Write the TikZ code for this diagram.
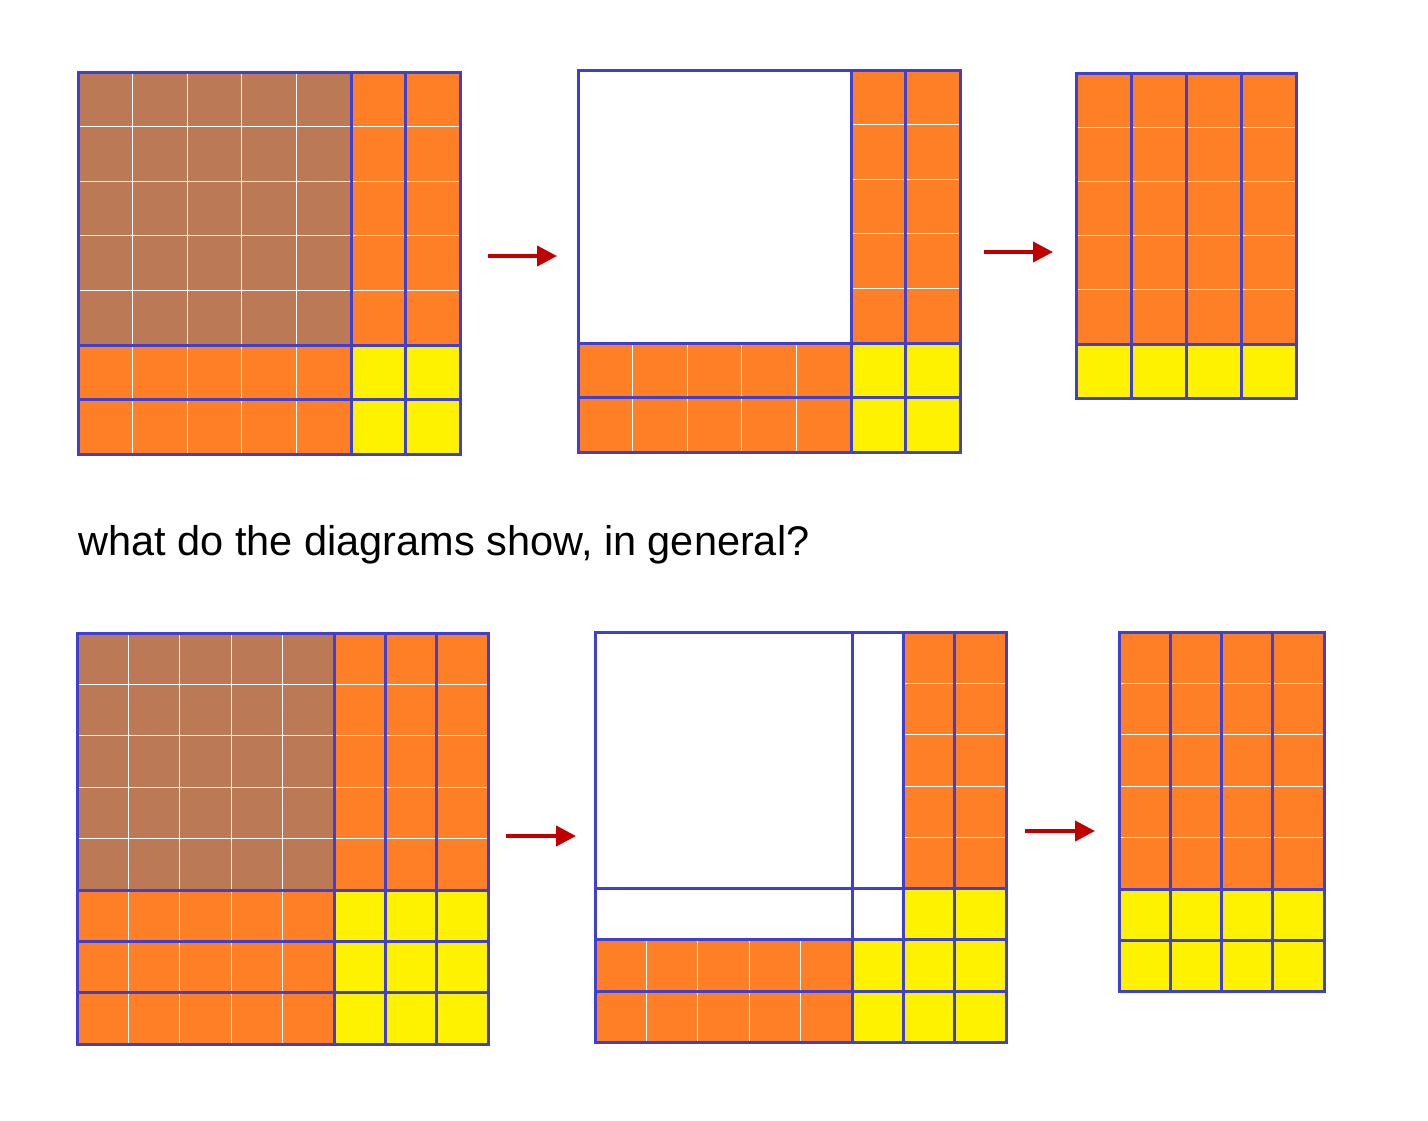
\documentclass[tikz,border=0pt]{standalone}
\usepackage{fontspec}
\setmainfont{Liberation Sans}
\usetikzlibrary{arrows.meta}

\definecolor{GridBlue}{RGB}{64,64,208}
\definecolor{CellOrange}{RGB}{255,127,39}
\definecolor{CellBrown}{RGB}{187,122,85}
\definecolor{CellYellow}{RGB}{255,242,0}
\definecolor{ArrowRed}{RGB}{192,0,0}

\tikzset{
  bluegrid/.style={draw=GridBlue, line width=3pt},
  whitegrid/.style={draw=white, line width=0.8pt},
  redarrow/.style={-{Triangle[length=20pt,width=20pt]}, draw=ArrowRed, line width=4pt},
}

\begin{document}
\begin{tikzpicture}[x=1pt,y=-1pt]
  \useasboundingbox (0,0) rectangle (1428,1120);

  % top row, full square
  \begin{scope}[shift={(78,72)}, x=54.6pt, y=-54.6pt]
    \fill[CellBrown] (0,0) rectangle (5,5);
    \fill[CellOrange] (5,0) rectangle (7,5);
    \fill[CellOrange] (0,5) rectangle (5,7);
    \fill[CellYellow] (5,5) rectangle (7,7);
    \foreach \i in {1,...,4}{
      \draw[whitegrid] (\i,0) -- (\i,7);
      \draw[whitegrid] (0,\i) -- (7,\i);
    }
    \foreach \i in {5,6}{
      \draw[bluegrid] (\i,0) -- (\i,7);
      \draw[bluegrid] (0,\i) -- (7,\i);
    }
    \draw[bluegrid] (0,0) rectangle (7,7);
  \end{scope}

  % top row, square taken away
  \begin{scope}[shift={(578,70)}, x=54.6pt, y=-54.6pt]
    \fill[CellOrange] (5,0) rectangle (7,5);
    \fill[CellOrange] (0,5) rectangle (5,7);
    \fill[CellYellow] (5,5) rectangle (7,7);
    \foreach \i in {1,...,4}{
      \draw[whitegrid] (\i,5) -- (\i,7);
      \draw[whitegrid] (5,\i) -- (7,\i);
    }
    \foreach \i in {5,6}{
      \draw[bluegrid] (\i,0) -- (\i,7);
      \draw[bluegrid] (0,\i) -- (7,\i);
    }
    \draw[bluegrid] (0,0) rectangle (7,7);
  \end{scope}

  % top row, rectangle
  \begin{scope}[shift={(1076,73)}, x=55pt, y=-54.2pt]
    \fill[CellOrange] (0,0) rectangle (4,5);
    \fill[CellYellow] (0,5) rectangle (4,6);
    \foreach \i in {1,...,4}
      \draw[whitegrid] (0,\i) -- (4,\i);
    \foreach \i in {1,...,3}
      \draw[bluegrid] (\i,0) -- (\i,6);
    \draw[bluegrid] (0,5) -- (4,5);
    \draw[bluegrid] (0,0) rectangle (4,6);
  \end{scope}

  \coordinate (ArrTopA) at (488,256);
  \coordinate (ArrTopB) at (557,256);
  \coordinate (ArrTopC) at (984,252);
  \coordinate (ArrTopD) at (1053,252);
  \draw[redarrow] (ArrTopA) -- (ArrTopB);
  \draw[redarrow] (ArrTopC) -- (ArrTopD);

  \node[anchor=base west, inner sep=0pt, font=\fontsize{41.5}{50}\selectfont]
    (Question) at (78,555) {what do the diagrams show, in general?};

  % bottom row, full square
  \begin{scope}[shift={(77,633)}, x=51.4pt, y=-51.4pt]
    \fill[CellBrown] (0,0) rectangle (5,5);
    \fill[CellOrange] (5,0) rectangle (8,5);
    \fill[CellOrange] (0,5) rectangle (5,8);
    \fill[CellYellow] (5,5) rectangle (8,8);
    \foreach \i in {1,...,4}{
      \draw[whitegrid] (\i,0) -- (\i,8);
      \draw[whitegrid] (0,\i) -- (8,\i);
    }
    \foreach \i in {5,6,7}{
      \draw[bluegrid] (\i,0) -- (\i,8);
      \draw[bluegrid] (0,\i) -- (8,\i);
    }
    \draw[bluegrid] (0,0) rectangle (8,8);
  \end{scope}

  % bottom row, square and strips taken away
  \begin{scope}[shift={(595,632)}, x=51.4pt, y=-51.3pt]
    \fill[CellOrange] (6,0) rectangle (8,5);
    \fill[CellOrange] (0,6) rectangle (5,8);
    \fill[CellYellow] (6,5) rectangle (8,6);
    \fill[CellYellow] (5,6) rectangle (8,8);
    \foreach \i in {1,...,4}{
      \draw[whitegrid] (\i,6) -- (\i,8);
      \draw[whitegrid] (6,\i) -- (8,\i);
    }
    \foreach \i in {5,6,7}{
      \draw[bluegrid] (\i,0) -- (\i,8);
      \draw[bluegrid] (0,\i) -- (8,\i);
    }
    \draw[bluegrid] (0,0) rectangle (8,8);
  \end{scope}

  % bottom row, rectangle
  \begin{scope}[shift={(1119,632)}, x=51.25pt, y=-51.4pt]
    \fill[CellOrange] (0,0) rectangle (4,5);
    \fill[CellYellow] (0,5) rectangle (4,7);
    \foreach \i in {1,...,4}
      \draw[whitegrid] (0,\i) -- (4,\i);
    \foreach \i in {1,...,3}
      \draw[bluegrid] (\i,0) -- (\i,7);
    \foreach \i in {5,6}
      \draw[bluegrid] (0,\i) -- (4,\i);
    \draw[bluegrid] (0,0) rectangle (4,7);
  \end{scope}

  \coordinate (ArrBotA) at (506,836);
  \coordinate (ArrBotB) at (576,836);
  \coordinate (ArrBotC) at (1025,831);
  \coordinate (ArrBotD) at (1095,831);
  \draw[redarrow] (ArrBotA) -- (ArrBotB);
  \draw[redarrow] (ArrBotC) -- (ArrBotD);
\end{tikzpicture}
\end{document}
